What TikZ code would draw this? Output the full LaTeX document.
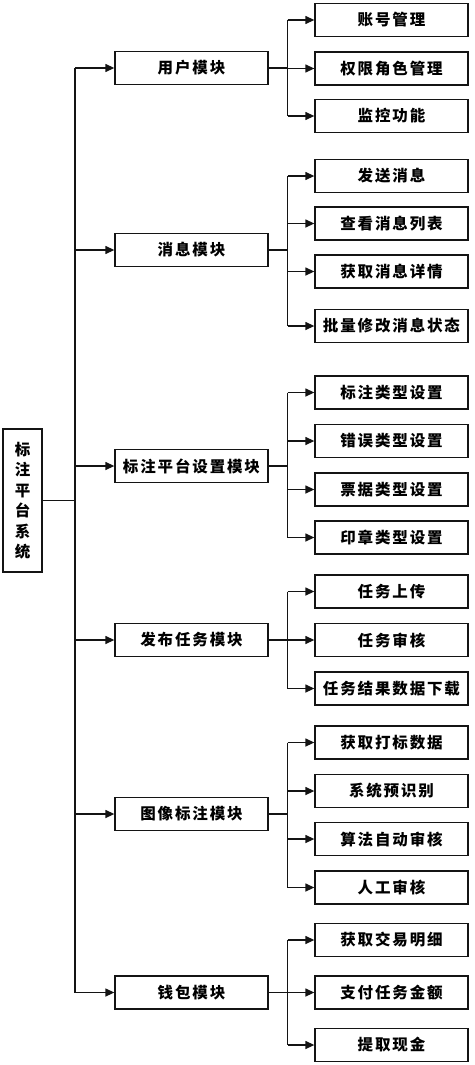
\documentclass[tikz,border=0pt]{standalone}
\usepackage{fontspec}
\newfontfamily\cjk{Noto Sans CJK SC}[LetterSpace=12]
\usepackage{tikz}
\usetikzlibrary{arrows.meta,positioning,calc}
\definecolor{linecolor}{RGB}{20,20,20}

\begin{document}
\begin{tikzpicture}[x=1pt,y=1pt,
    rootbox/.style={draw=linecolor, line width=1.3pt, minimum width=39pt, minimum height=143pt, inner sep=0pt, font=\cjk\bfseries\fontsize{15.5}{20.5}\selectfont, align=center},
    modbox/.style={draw=linecolor, line width=1.3pt, minimum width=153pt, minimum height=33pt, inner sep=0pt, font=\cjk\bfseries\fontsize{15.5}{18}\selectfont},
    leafbox/.style={modbox},
    arrow/.style={-{Triangle[length=9pt,width=8pt]}, line width=1.3pt, linecolor},
    wire/.style={line width=1.3pt, linecolor}
]
\useasboundingbox (0,0) rectangle (474,-1065);

% Root
\node[rootbox] (root) at (22.5,-500.5) {标\\注\\平\\台\\系\\统};

% Modules
\node[modbox] (user) at (191.5,-68) {用户模块};
\node[modbox] (msg) at (191.5,-250) {消息模块};
\node[modbox] (plat) at (191.5,-466) {标注平台设置模块};
\node[modbox] (task) at (191.5,-640) {发布任务模块};
\node[modbox] (img) at (191.5,-814) {图像标注模块};
\node[modbox] (wallet) at (191.5,-992.5) {钱包模块};

% Leaves
\node[leafbox] (user1) at (391.5,-20) {账号管理};
\node[leafbox] (user2) at (391.5,-68.5) {权限角色管理};
\node[leafbox] (user3) at (391.5,-116) {监控功能};
\node[leafbox] (msg1) at (391.5,-176) {发送消息};
\node[leafbox] (msg2) at (391.5,-223.5) {查看消息列表};
\node[leafbox] (msg3) at (391.5,-271.5) {获取消息详情};
\node[leafbox] (msg4) at (391.5,-326) {批量修改消息状态};
\node[leafbox] (plat1) at (391.5,-392.5) {标注类型设置};
\node[leafbox] (plat2) at (391.5,-441) {错误类型设置};
\node[leafbox] (plat3) at (391.5,-489.5) {票据类型设置};
\node[leafbox] (plat4) at (391.5,-537.5) {印章类型设置};
\node[leafbox] (task1) at (391.5,-591.5) {任务上传};
\node[leafbox] (task2) at (391.5,-640) {任务审核};
\node[leafbox] (task3) at (391.5,-688.5) {任务结果数据下载};
\node[leafbox] (img1) at (391.5,-742.5) {获取打标数据};
\node[leafbox] (img2) at (391.5,-791) {系统预识别};
\node[leafbox] (img3) at (391.5,-839) {算法自动审核};
\node[leafbox] (img4) at (391.5,-887.5) {人工审核};
\node[leafbox] (wallet1) at (391.5,-940) {获取交易明细};
\node[leafbox] (wallet2) at (391.5,-992.5) {支付任务金额};
\node[leafbox] (wallet3) at (391.5,-1045) {提取现金};

% Trunk
\coordinate (trunk) at (75,-500.5);
\draw[wire] (root.east) -- (trunk);
\draw[wire] (trunk |- user.west) -- (trunk |- wallet.west);
\foreach \m in {user,msg,plat,task,img,wallet}
    \draw[arrow] (trunk |- \m.west) -- (\m.west);

% Branches
\foreach \m/\first/\last/\all in {user/user1/user3/{user1,user2,user3},
        msg/msg1/msg4/{msg1,msg2,msg3,msg4},
        plat/plat1/plat4/{plat1,plat2,plat3,plat4},
        task/task1/task3/{task1,task2,task3},
        img/img1/img4/{img1,img2,img3,img4},
        wallet/wallet1/wallet3/{wallet1,wallet2,wallet3}} {
    \coordinate (b\m) at ($(\m.east)+(19,0)$);
    \draw[wire] (\m.east) -- (b\m);
    \draw[wire] (b\m |- \first.west) -- (b\m |- \last.west);
    \foreach \l in \all
        \draw[arrow] (b\m |- \l.west) -- (\l.west);
}
\end{tikzpicture}
\end{document}
